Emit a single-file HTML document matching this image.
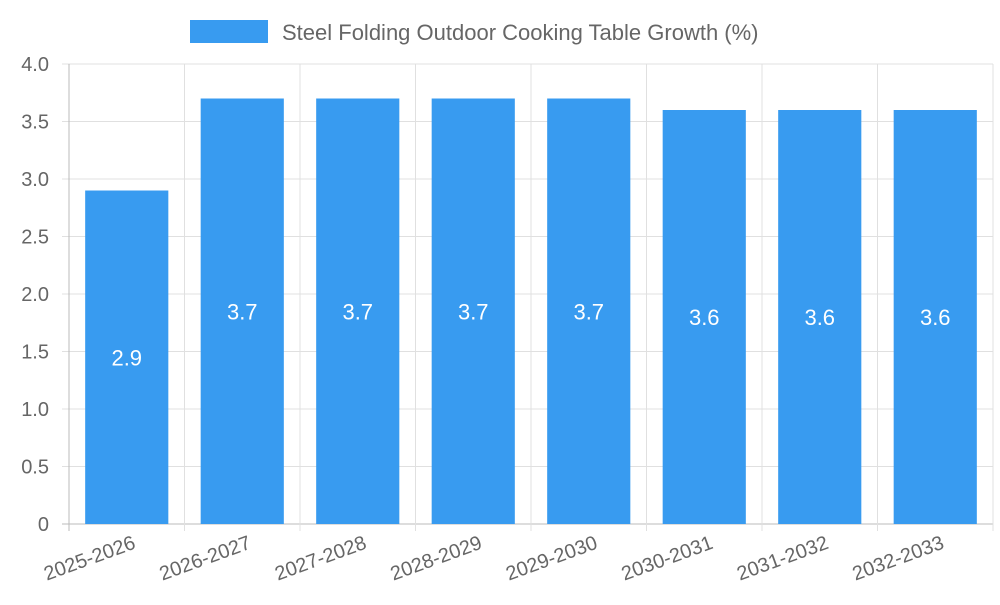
<!DOCTYPE html>
<html><head><meta charset="utf-8"><style>
body{margin:0;background:#fff;font-family:"Liberation Sans",sans-serif}
svg text{font-family:"Liberation Sans",sans-serif}
</style></head><body>
<svg width="1000" height="600" id="chart">
<g>
<rect x="190" y="20" width="78" height="23" fill="#389bf0"/>
<text x="282" y="40" font-size="22" fill="#666">Steel Folding Outdoor Cooking Table Growth (%)</text>
</g>
<g id="grid"></g><g id="bars"></g><g id="labels"></g>
</svg>
<script>
const categories=["2025-2026","2026-2027","2027-2028","2028-2029","2029-2030","2030-2031","2031-2032","2032-2033"];
const values=[2.9,3.7,3.7,3.7,3.7,3.6,3.6,3.6];
const yTicks=[0,0.5,1.0,1.5,2.0,2.5,3.0,3.5,4.0];
const yTickLabels=["0","0.5","1.0","1.5","2.0","2.5","3.0","3.5","4.0"];
const X0=69,X1=993,Y0=524,Y1=64,YMAX=4;
const ns="http://www.w3.org/2000/svg";
const bw=(X1-X0)/categories.length;
const y=v=>Y0-(v/YMAX)*(Y0-Y1);
const x=i=>X0+i*bw;
function mk(t,a,p){const e=document.createElementNS(ns,t);for(const k in a)e.setAttribute(k,a[k]);p.appendChild(e);return e;}
const grid=document.getElementById('grid'),bars=document.getElementById('bars'),labels=document.getElementById('labels');
yTicks.forEach((t,i)=>{
 const l=mk('line',{x1:X0-7,x2:X1,y1:y(t),y2:y(t),stroke:i==0?'#bbb':'#e0e0e0','stroke-width':1},grid);
 
 
 const tx=mk('text',{x:X0-20,y:y(t)+7,'text-anchor':'end','font-size':20,fill:'#666'},grid);
 tx.textContent=yTickLabels[i];
 
 
});
for(let i=0;i<=categories.length;i++){
 const l=mk('line',{x1:x(i),x2:x(i),y1:Y1,y2:Y0+7,stroke:i==0?'#bbb':'#e0e0e0','stroke-width':1},grid);
 
 
}
categories.forEach((c,i)=>{
 const w=bw*0.72,bx=x(i)+(bw-w)/2;
 const r=mk('rect',{x:bx,y:y(values[i]),width:w,height:Y0-y(values[i]),fill:'#389bf0'},bars);
 
 
 const v=mk('text',{x:x(i)+bw/2,y:(y(values[i])+Y0)/2+8,'text-anchor':'middle','font-size':22,fill:'#fff'},labels);
 v.textContent=values[i];
 
 
 const cx=x(i)+bw/2+10,cy=548;
 const t=mk('text',{x:cx,y:cy,'text-anchor':'end','font-size':20,fill:'#666',transform:`rotate(-20 ${cx} ${cy})`},labels);
 t.textContent=c;
 
 
});
</script>
</body></html>
